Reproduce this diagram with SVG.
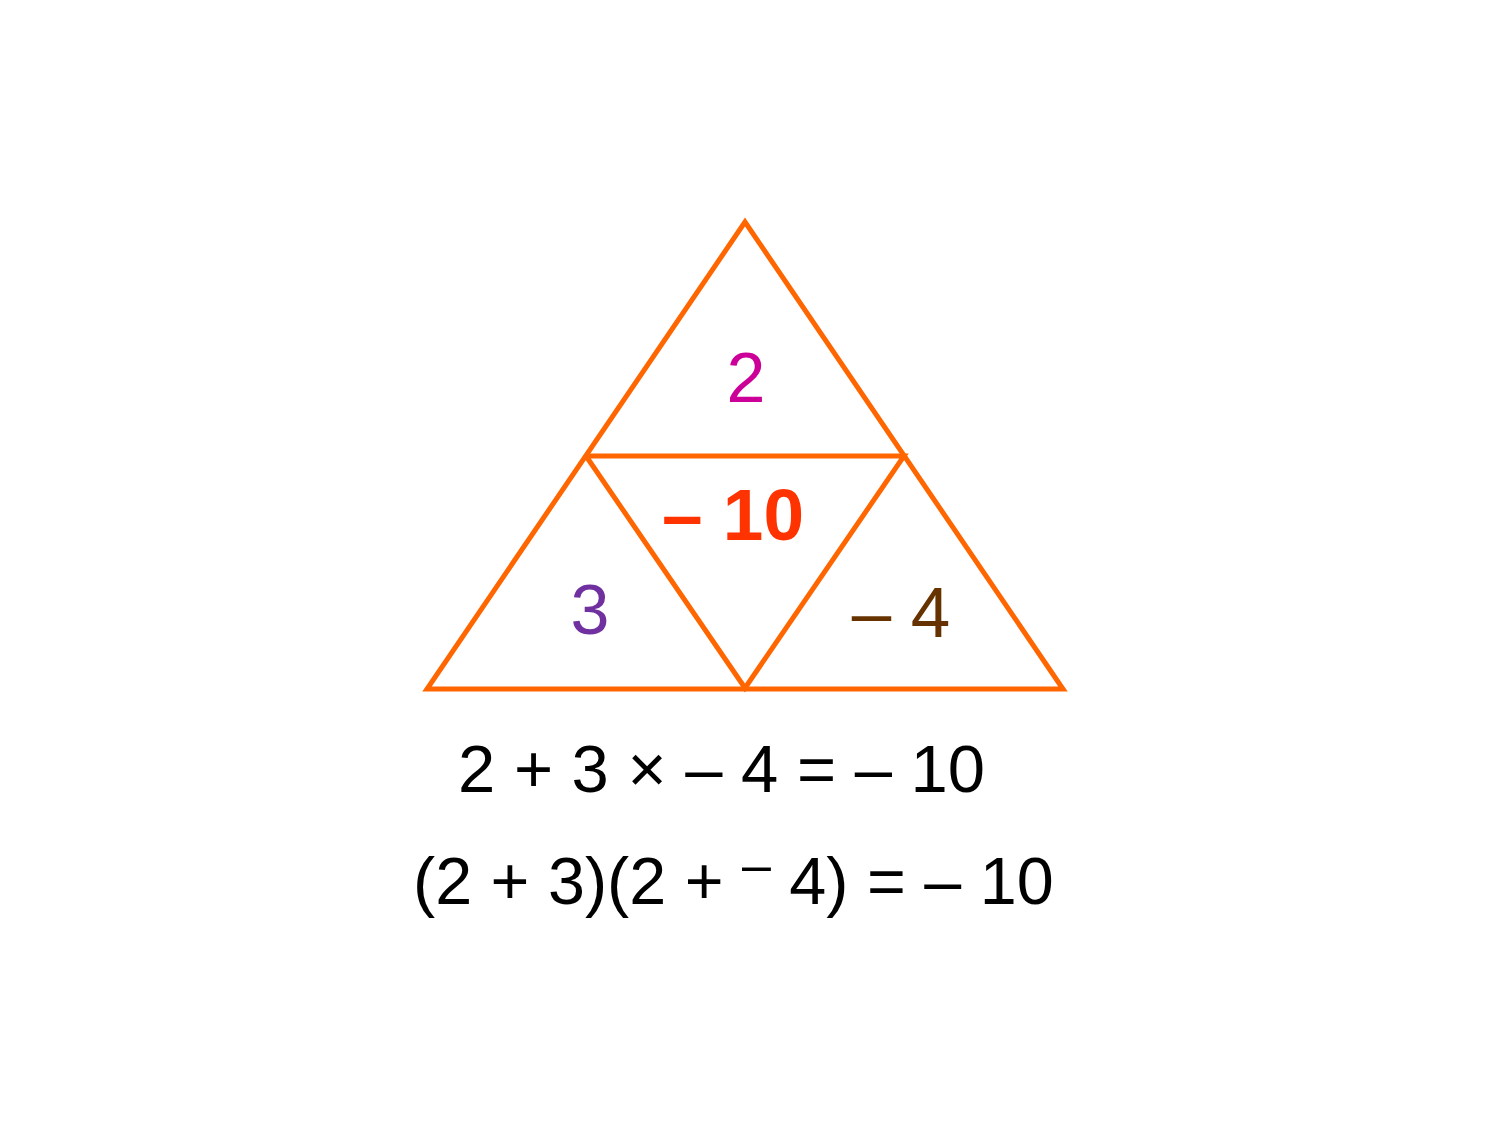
<svg xmlns="http://www.w3.org/2000/svg" width="1500" height="1125" viewBox="0 0 1500 1125">
<style>
.edge{fill:none;stroke:#FF6600;stroke-width:5;stroke-linejoin:miter}
.t{font-family:"Liberation Sans",Arial,sans-serif;font-size:70px}
.eq{font-family:"Liberation Sans",Arial,sans-serif;font-size:67px;fill:#000}
</style>
<rect width="1500" height="1125" fill="#fff"/>
<g id="connectors">
<polygon class="edge" points="745,222 1063,689 427,689"/>
<polyline class="edge" points="586,456 904,456 745,688 586,456"/>
</g>
<g id="top"><text class="t" x="746" y="402" text-anchor="middle" fill="#CC0099">2</text></g>
<g id="center"><text class="t" x="733" y="540" text-anchor="middle" fill="#FF3300" style="font-weight:bold;font-size:73px">– 10</text></g>
<g id="left"><text class="t" x="590" y="634" text-anchor="middle" fill="#7030A0">3</text></g>
<g id="right"><text class="t" x="901" y="637" text-anchor="middle" fill="#663300" style="font-size:71px">– 4</text></g>
<g id="equations">
<text class="eq" x="458" y="792">2 + 3 × – 4 = – 10</text>
<text class="eq" x="413" y="904" style="font-size:66.5px">(2 + 3)(2 + <tspan style="font-size:52px" dy="-22">–</tspan><tspan dy="22"> 4) = – 10</tspan></text>
</g>
</svg>
